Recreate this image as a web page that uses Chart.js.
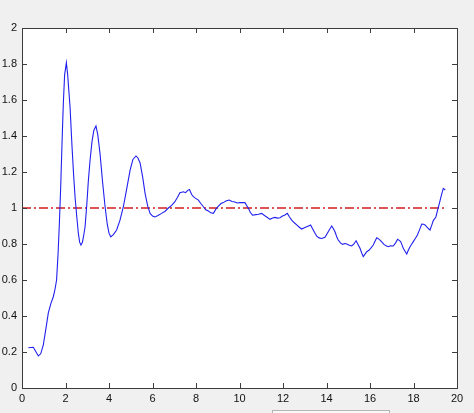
<!DOCTYPE html>
<html lang="en">
<head>
    <meta charset="UTF-8">
    <title>Plot</title>
    <script src="https://cdn.jsdelivr.net/npm/chart.js"></script>
    <style>
        html, body {
            margin: 0;
            padding: 0;
            background: #f0f0f0;
        }
        #wrap {
            position: relative;
            width: 474px;
            height: 413px;
            overflow: hidden;
        }
        #bar {
            position: absolute;
            left: 272px;
            top: 410px;
            width: 116px;
            height: 8px;
            border: 1px solid #b4b4b4;
            background: #f8f8f8;
        }
    </style>
</head>
<body>
    <div id="wrap">
        <canvas id="plot"></canvas>
        <div id="bar"></div>
    </div>

    <script>
        // curve samples
        const xValues = [
            0.29, 0.52, 0.62, 0.75, 0.86, 0.98, 1.10, 1.21, 1.33, 1.44, 1.52, 1.59, 1.66, 1.72, 1.78, 1.84,
            1.90, 1.96, 2.04, 2.10, 2.16, 2.21, 2.30, 2.37, 2.44, 2.52, 2.59, 2.65, 2.71, 2.78, 2.84, 2.90,
            2.98, 3.05, 3.13, 3.22, 3.30, 3.40, 3.48, 3.59, 3.70, 3.82, 3.92, 4.00, 4.08, 4.20, 4.35, 4.50,
            4.66, 4.82, 4.97, 5.10, 5.24, 5.33, 5.43, 5.55, 5.66, 5.78, 5.89, 6.00, 6.11, 6.25, 6.42, 6.58,
            6.73, 6.88, 7.03, 7.15, 7.26, 7.42, 7.52, 7.62, 7.70, 7.80, 7.88, 7.97, 8.11, 8.22, 8.34, 8.45,
            8.57, 8.68, 8.80, 8.92, 9.03, 9.15, 9.26, 9.40, 9.53, 9.65, 9.79, 9.90, 10.02, 10.15, 10.25, 10.35,
            10.41, 10.50, 10.60, 10.75, 10.87, 11.02, 11.15, 11.25, 11.40, 11.52, 11.63, 11.75, 11.86, 11.98, 12.09, 12.20,
            12.30, 12.40, 12.52, 12.63, 12.75, 12.86, 12.98, 13.09, 13.20, 13.27, 13.39, 13.48, 13.55, 13.66, 13.78, 13.93,
            14.08, 14.16, 14.24, 14.32, 14.39, 14.47, 14.54, 14.64, 14.74, 14.84, 14.93, 15.05, 15.16, 15.26, 15.36, 15.45,
            15.54, 15.62, 15.69, 15.78, 15.85, 15.95, 16.03, 16.15, 16.23, 16.31, 16.38, 16.46, 16.55, 16.64, 16.74, 16.84,
            16.95, 17.07, 17.17, 17.27, 17.34, 17.41, 17.47, 17.53, 17.61, 17.69, 17.76, 17.84, 17.92, 17.99, 18.09, 18.18,
            18.28, 18.38, 18.46, 18.53, 18.65, 18.76, 18.84, 18.91, 19.03, 19.11, 19.19, 19.28, 19.37, 19.46
        ];
        const yValues = [
            0.224, 0.226, 0.205, 0.178, 0.19, 0.24, 0.33, 0.417, 0.47, 0.507, 0.55, 0.60, 0.75, 0.92, 1.12, 1.36,
            1.58, 1.74, 1.807, 1.74, 1.64, 1.56, 1.34, 1.19, 1.06, 0.95, 0.86, 0.81, 0.794, 0.81, 0.85, 0.896,
            1.02, 1.15, 1.267, 1.37, 1.43, 1.456, 1.41, 1.30, 1.15, 1.007, 0.91, 0.86, 0.84, 0.852, 0.878, 0.93,
            1.007, 1.11, 1.21, 1.27, 1.289, 1.278, 1.25, 1.17, 1.08, 1.01, 0.97, 0.955, 0.95, 0.958, 0.97, 0.982,
            1.0, 1.015, 1.035, 1.06, 1.085, 1.09, 1.085, 1.098, 1.103, 1.075, 1.063, 1.055, 1.044, 1.025, 1.007, 0.99,
            0.983, 0.973, 0.97, 0.995, 1.01, 1.025, 1.03, 1.04, 1.044, 1.036, 1.033, 1.028, 1.03, 1.03, 1.03, 1.01,
            0.998, 0.975, 0.96, 0.963, 0.965, 0.97, 0.958, 0.95, 0.937, 0.945, 0.948, 0.944, 0.946, 0.955, 0.961, 0.97,
            0.95, 0.933, 0.918, 0.906, 0.893, 0.883, 0.89, 0.896, 0.902, 0.906, 0.878, 0.858, 0.844, 0.834, 0.831, 0.837,
            0.868, 0.885, 0.90, 0.885, 0.868, 0.84, 0.822, 0.806, 0.798, 0.803, 0.80, 0.793, 0.789, 0.80, 0.818, 0.797,
            0.776, 0.75, 0.73, 0.745, 0.757, 0.765, 0.776, 0.794, 0.815, 0.835, 0.83, 0.822, 0.81, 0.798, 0.79, 0.785,
            0.79, 0.789, 0.805, 0.826, 0.82, 0.813, 0.795, 0.776, 0.76, 0.744, 0.765, 0.785, 0.80, 0.813, 0.832, 0.85,
            0.88, 0.911, 0.91, 0.906, 0.89, 0.878, 0.905, 0.93, 0.95, 0.99, 1.026, 1.07, 1.109, 1.10
        ];

        // reference line (dash-dot, red)
        const refX = [0, 19.4];
        const refY = [1, 1];

        const xTicks = [0, 2, 4, 6, 8, 10, 12, 14, 16, 18, 20];
        const yTicks = [0, 0.2, 0.4, 0.6, 0.8, 1, 1.2, 1.4, 1.6, 1.8, 2];

        const curve = xValues.map((x, i) => ({ x: x, y: yValues[i] }));
        const ref = refX.map((x, i) => ({ x: x, y: refY[i] }));

        // white axes background, box and inward tick marks like matlab
        const boxPlugin = {
            id: 'box',
            beforeDraw(chart) {
                const a = chart.chartArea;
                const ctx = chart.ctx;
                ctx.save();
                ctx.fillStyle = '#ffffff';
                ctx.fillRect(a.left, a.top, a.right - a.left, a.bottom - a.top);
                ctx.restore();
            },
            afterDraw(chart) {
                const a = chart.chartArea;
                const ctx = chart.ctx;
                const xs = chart.scales.x, ys = chart.scales.y;
                const len = 5;
                ctx.save();
                ctx.strokeStyle = '#3c3c3c';
                ctx.lineWidth = 1;
                ctx.beginPath();
                xTicks.forEach(v => {
                    const px = Math.round(xs.getPixelForValue(v)) + 0.5;
                    ctx.moveTo(px, a.bottom);
                    ctx.lineTo(px, a.bottom - len);
                    ctx.moveTo(px, a.top);
                    ctx.lineTo(px, a.top + len);
                });
                yTicks.forEach(v => {
                    const py = Math.round(ys.getPixelForValue(v)) + 0.5;
                    ctx.moveTo(a.left, py);
                    ctx.lineTo(a.left + len, py);
                    ctx.moveTo(a.right, py);
                    ctx.lineTo(a.right - len, py);
                });
                ctx.stroke();
                ctx.strokeRect(Math.round(a.left) + 0.5, Math.round(a.top) + 0.5,
                    Math.round(a.right - a.left), Math.round(a.bottom - a.top));
                ctx.restore();
            }
        };

        new Chart(document.getElementById('plot'), {
            type: 'scatter',
            data: {
                datasets: [{
                    data: curve,
                    showLine: true,
                    borderColor: '#2020ee',
                    borderWidth: 1.1,
                    pointRadius: 0,
                    tension: 0
                }, {
                    data: ref,
                    showLine: true,
                    borderColor: '#d41c1c',
                    borderWidth: 1.3,
                    borderDash: [9, 3, 2, 3],
                    pointRadius: 0,
                    tension: 0
                }]
            },
            plugins: [boxPlugin],
            options: {
                responsive: true,
                maintainAspectRatio: false,
                animation: false,
                layout: { padding: { top: 28, right: 17, left: 0, bottom: 0 } },
                plugins: {
                    legend: { display: false },
                    tooltip: { enabled: false }
                },
                scales: {
                    x: {
                        type: 'linear',
                        min: 0,
                        max: 20,
                        border: { display: false },
                        grid: { display: false, drawTicks: false },
                        afterBuildTicks: s => { s.ticks = xTicks.map(v => ({ value: v })); },
                        afterFit: s => { s.height = 25; },
                        ticks: {
                            padding: 4,
                            maxRotation: 0,
                            color: '#111',
                            font: { family: 'Liberation Sans', size: 11 },
                            callback: v => String(v)
                        }
                    },
                    y: {
                        type: 'linear',
                        min: 0,
                        max: 2,
                        border: { display: false },
                        grid: { display: false, drawTicks: false },
                        afterBuildTicks: s => { s.ticks = yTicks.map(v => ({ value: v })); },
                        afterFit: s => { s.width = 22; },
                        ticks: {
                            padding: 5,
                            color: '#111',
                            font: { family: 'Liberation Sans', size: 11 },
                            callback: v => String(v)
                        }
                    }
                }
            }
        });
    </script>
</body>
</html>
